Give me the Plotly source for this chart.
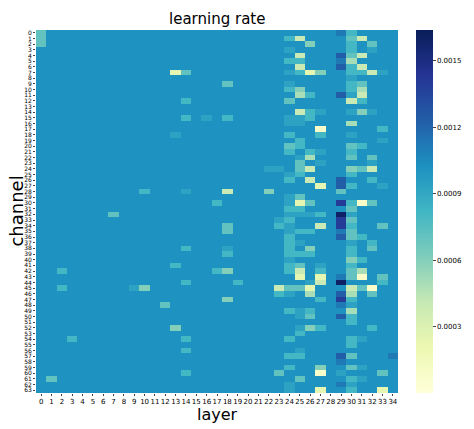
import plotly.graph_objects as go

layers = [str(i) for i in range(35)]
channels = [str(i) for i in range(64)]

# level codes -> learning-rate value
levels = {'0': 0.00008, '1': 0.00025, '2': 0.0004, '3': 0.0005, '4': 0.0006,
          '5': 0.00071, '6': 0.00081, '7': 0.00093, '8': 0.00102, '9': 0.00112,
          'A': 0.00123, 'B': 0.00140, 'C': 0.00160}

rows_left = [
"5888888888888888888888","5888888888888888888888","5888888888888888888888","8888888888888888888888",
"8888888888888888888888","8888888888888888888888","8888888888888888888888","8888888888888158888888",
"8888888888888888888888","8888888888888888885888","8888888888888888888888","8888888888888888888888",
"8888888888888868888888","8888888888888888888888","8888888888888888888888","8888888888888868786888",
"8888888888888888888888","8888888888888888888888","8888888888888788888888","8888888888888888888888",
"8888888888888888888888","8888888888888888888888","8888888888888888888888","8888888888888888888888",
"8888888888888888888888","8888888888888888888888","8888888888888888888888","8888888888888888888888",
"8888888888688878882888","8888888888888888888888","8888888888888888868888","8888888888888888888888",
"8888888588888888888888","8888888888888888888888","8888888888888888885888","8888888888888888885888",
"8888888888888888888888","8888888888888888888888","8888888888888868887888","8888888888888888886888",
"8888888888888888888888","8888888888888688888888","8868888888888888864888","8888888888888888888888",
"8888888888888868888688","8868888887488888888888","8888888888888888888888","8888888888888888884888",
"8888888888885888888888","8888888888888888888888","8888888888888888888888","8888888888888888888888",
"8888888888888488888888","8888888888888888888888","8886888888888868888888","8888888888888888888888",
"8888888888888868888888","8888888888888888888888","8888888888888888888888","8888888888888888888888",
"8888888888888868888888","8588888888888888888888","8888888888888888888888","8888888888888888888888",
]
rows_right = [
"8888888968888","8862888852888","8888488868588","8878888868788",
"8882888A52888","8866888938888","8882888A62888","8876148866278",
"8888888878888","8878888865888","8864888863888","8883688A72888",
"8858888826888","8888888888888","8882678874788","8877688888888",
"8877888838888","8888808888868","8868868878888","8886888888878",
"8856888856888","8868678868888","8887388858588","8885878888788",
"7785288845288","8876888868888","8868288A88688","8888818A68878",
"4888888588888","8875888888888","8871588B60588","8866888858888",
"8877768C78888","8768888B58888","8678828B68858","8876688958888",
"8868888A56888","8867888878688","8868488868588","8866688868888",
"8878888846888","8865878868888","8862868853888","8881818950858",
"8888728C88868","8255188825088","8678388A38588","8888868B68888",
"8888888978888","8867688838888","8887588A68888","8888888868888",
"8887468888688","8886888888888","8868888867888","8888888868888",
"8887888888888","8866888A58889","8888888988888","8868848857888",
"8588808788858","8885888867888","8878888978888","8878818868818",
]

z = [[levels[c] for c in (l + r)] for l, r in zip(rows_left, rows_right)]

ylgnbu = [[0, 'rgb(255,255,217)'], [0.125, 'rgb(237,248,177)'], [0.25, 'rgb(199,233,180)'],
          [0.375, 'rgb(127,205,187)'], [0.5, 'rgb(65,182,196)'], [0.625, 'rgb(29,145,192)'],
          [0.75, 'rgb(34,94,168)'], [0.875, 'rgb(37,52,148)'], [1, 'rgb(8,29,88)']]

fig = go.Figure(go.Heatmap(
    z=z, x=layers, y=channels, colorscale=ylgnbu, zmin=0, zmax=0.00164,
    colorbar=dict(x=1.05, xanchor='left', xpad=0, y=0.5, yanchor='middle', len=1, ypad=0,
                  thickness=17,
                  tickvals=[0.0003, 0.0006, 0.0009, 0.0012, 0.0015],
                  ticktext=['0.0003', '0.0006', '0.0009', '0.0012', '0.0015'],
                  ticks='outside', ticklen=3, tickfont=dict(size=7, family='DejaVu Sans'),
                  outlinewidth=0)))

fig.update_layout(
    width=466, height=421, margin=dict(l=28, r=76, t=22, b=36, autoexpand=False),
    paper_bgcolor='white', plot_bgcolor='white',
    font=dict(family='DejaVu Sans', color='black'),
    xaxis=dict(tickfont=dict(size=7),
               ticks='outside', ticklen=2, tickangle=0, showgrid=False, automargin=False),
    yaxis=dict(tickfont=dict(size=6),
               autorange='reversed', ticks='outside', ticklen=2, tickangle=0, showgrid=False,
               tickmode='array', tickvals=channels, automargin=False),
    annotations=[
        dict(text='learning rate', xref='paper', yref='paper', x=0.5, y=1.0,
             xanchor='center', yanchor='bottom', showarrow=False, font=dict(size=15)),
        dict(text='layer', xref='paper', yref='paper', x=0.5, y=-0.058,
             xanchor='center', yanchor='middle', showarrow=False, font=dict(size=16)),
        dict(text='channel', xref='paper', yref='paper', x=-0.055, y=0.5, textangle=-90,
             xanchor='center', yanchor='middle', showarrow=False, font=dict(size=18)),
    ],
)
fig.write_html('out.html')
